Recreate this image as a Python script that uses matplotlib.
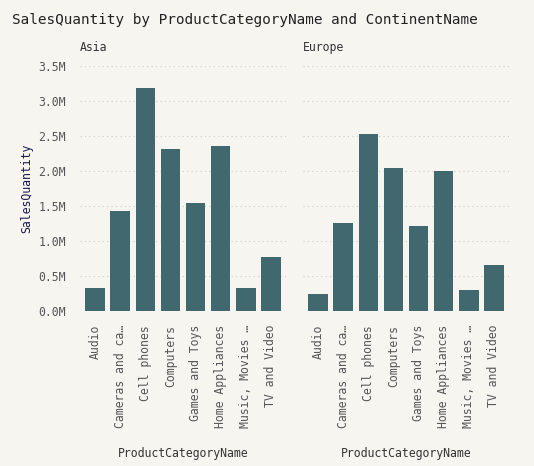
import matplotlib
matplotlib.use("Agg")
import matplotlib.pyplot as plt
from matplotlib.ticker import FuncFormatter

categories = ["Audio", "Cameras and ca…", "Cell phones", "Computers", "Games and Toys",
              "Home Appliances", "Music, Movies …", "TV and Video"]
asia = [0.33e6, 1.43e6, 3.19e6, 2.32e6, 1.55e6, 2.36e6, 0.33e6, 0.77e6]
europe = [0.25e6, 1.26e6, 2.53e6, 2.05e6, 1.21e6, 2.00e6, 0.30e6, 0.66e6]
panels = [("Asia", asia), ("Europe", europe)]

bg = "#f7f5f0"
bar_color = "#41676f"
txt = "#333333"
plt.rcParams['font.family'] = ['DejaVu Sans Mono']
plt.rcParams['font.size'] = 8.3

fig = plt.figure(figsize=(5.34, 4.66), dpi=100, facecolor=bg)
fig.text(12/534, 1-20/466, "SalesQuantity by ProductCategoryName and ContinentName",
         fontsize=10.4, color="#222222", va="center")

lefts = [80/534, 303/534]
w = 206/534
for i, ((name, vals), l) in enumerate(zip(panels, lefts)):
    ax = fig.add_axes([l, 1-311/466, w, 245/466], facecolor=bg)
    ax.bar(range(len(categories)), vals, width=0.78, color=bar_color)
    ax.set_ylim(0, 3.5e6)
    ax.set_xlim(-0.6, len(categories)-0.4)
    ax.set_yticks([0, 0.5e6, 1e6, 1.5e6, 2e6, 2.5e6, 3e6, 3.5e6])
    ax.yaxis.set_major_formatter(FuncFormatter(lambda v, p: f"{v/1e6:.1f}M"))
    ax.set_xticks(range(len(categories)))
    ax.set_xticklabels(categories, rotation=90, color="#555555")
    ax.grid(axis="y", linestyle=(0, (1, 3)), color="#cccccc", linewidth=0.8)
    ax.set_axisbelow(True)
    for s in ax.spines.values():
        s.set_visible(False)
    ax.tick_params(length=0, colors="#555555", pad=10)
    ax.text(0.0, 1.06, name, transform=ax.transAxes, color=txt)
    ax.set_xlabel("ProductCategoryName", color=txt, labelpad=14)
    if i == 0:
        ax.set_ylabel("SalesQuantity", color="#1a1a4a", labelpad=4)
    else:
        ax.set_yticklabels([])

fig.savefig("out.png", dpi=100, facecolor=bg)
